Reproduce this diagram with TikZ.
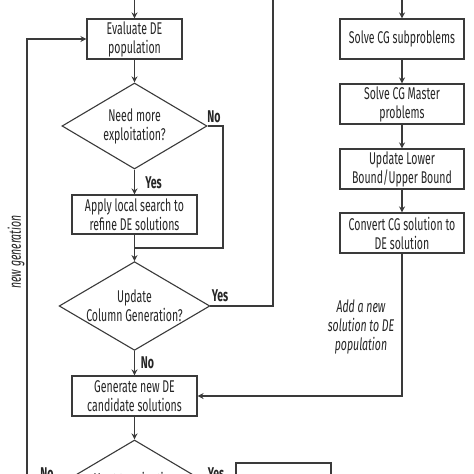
\documentclass[tikz,border=0pt]{standalone}
\usepackage{fontspec}
\setmainfont[FakeStretch=0.62]{Fira Sans}
\usetikzlibrary{shapes.geometric,arrows.meta}
\definecolor{lc}{HTML}{3A3A3A}
\definecolor{tc}{HTML}{262626}
\begin{document}
\begin{tikzpicture}[x=1pt,y=-1pt,
  txt/.style={text=tc, font=\fontsize{17}{19}\selectfont},
  box/.style={txt, draw=lc, line width=1.1pt, rectangle, minimum height=40pt, inner sep=0pt, align=center},
  dec/.style={txt, draw=lc, line width=1.1pt, diamond, shape aspect=1.7, minimum width=145pt, minimum height=86pt, inner sep=0pt, align=center},
  conn/.style={draw=lc, line width=1.1pt},
  arr/.style={conn, -{Stealth[length=6pt,width=6pt]}},
  lbl/.style={text=tc, font=\bfseries\fontsize{17}{19}\selectfont, inner sep=0pt},
  note/.style={text=tc, font=\itshape\fontsize{17}{19}\selectfont, align=center, inner sep=0pt}
]
\useasboundingbox (0,0) rectangle (474,474);
\clip (0,0) rectangle (474,474);
\fill[white] (0,0) rectangle (474,474);

% left column
\node[box, minimum width=95pt] (eval) at (134.5,39) {Evaluate DE\\population};
\node[dec] (d1) at (134.5,126) {Need more\\exploitation?};
\node[box, minimum width=125pt, minimum height=39pt] (apply) at (134.5,214.5) {Apply local search to\\refine DE solutions};
\coordinate (join) at (134.5,248);
\node[dec] (d2) at (134.5,306) {Update\\Column Generation?};
\node[box, minimum width=125pt] (gen) at (134.5,396) {Generate new DE\\candidate solutions};
\node[dec] (d3) at (134.5,483) {};
\node[txt, inner sep=0pt] (d3t) at (134.5,479) {Meet termination};
\node[box, minimum width=95pt] (endb) at (283.5,483) {};

% right column
\node[box, minimum width=124pt] (cg1) at (402,39) {Solve CG subproblems};
\node[box, minimum width=124pt] (cg2) at (402,104) {Solve CG Master\\problems};
\node[box, minimum width=124pt] (cg3) at (402,169) {Update Lower\\Bound/Upper Bound};
\node[box, minimum width=124pt] (cg4) at (402,233) {Convert CG solution to\\DE solution};

% free ends
\coordinate (topL) at (134.5,-5);
\coordinate (topR) at (402,-5);
\coordinate (topY) at (273,-5);
\coordinate (noR) at (223,126);
\coordinate (noRb) at (223,248);
\coordinate (yR) at (273,306);
\coordinate (addC) at (402,396);
\coordinate (loopB) at (27,483);
\coordinate (loopT) at (27,39);

% connectors
\draw[arr] (topL) -- (eval);
\draw[arr] (eval) -- (d1);
\draw[arr] (d1) -- (apply);
\draw[conn] (d1.east) -- (noR) -- (noRb) -- (join);
\draw[conn] (apply) -- (join);
\draw[arr] (join) -- (d2);
\draw[conn] (d2.east) -- (yR) -- (topY);
\draw[arr] (d2) -- (gen);
\draw[arr] (gen) -- (d3);
\draw[arr] (d3.east) -- (endb.west);
\draw[arr] (d3.west) -- (loopB) -- (loopT) -- (eval.west);

\draw[arr] (topR) -- (cg1);
\draw[arr] (cg1) -- (cg2);
\draw[arr] (cg2) -- (cg3);
\draw[arr] (cg3) -- (cg4);
\draw[arr] (cg4) -- (addC) -- (gen.east);

% labels
\node[lbl] (l1) at (214,117) {No};
\node[lbl] (l2) at (153.5,183) {Yes};
\node[lbl] (l3) at (220,296) {Yes};
\node[lbl] (l4) at (147.5,362.5) {No};
\node[lbl] (l5) at (47,474) {No};
\node[lbl] (l6) at (216,474) {Yes};
\node[note] (n1) at (361,327) {Add a new\\solution to DE\\population};
\node[note, rotate=90] (n2) at (16,252) {new generation};
\end{tikzpicture}
\end{document}
